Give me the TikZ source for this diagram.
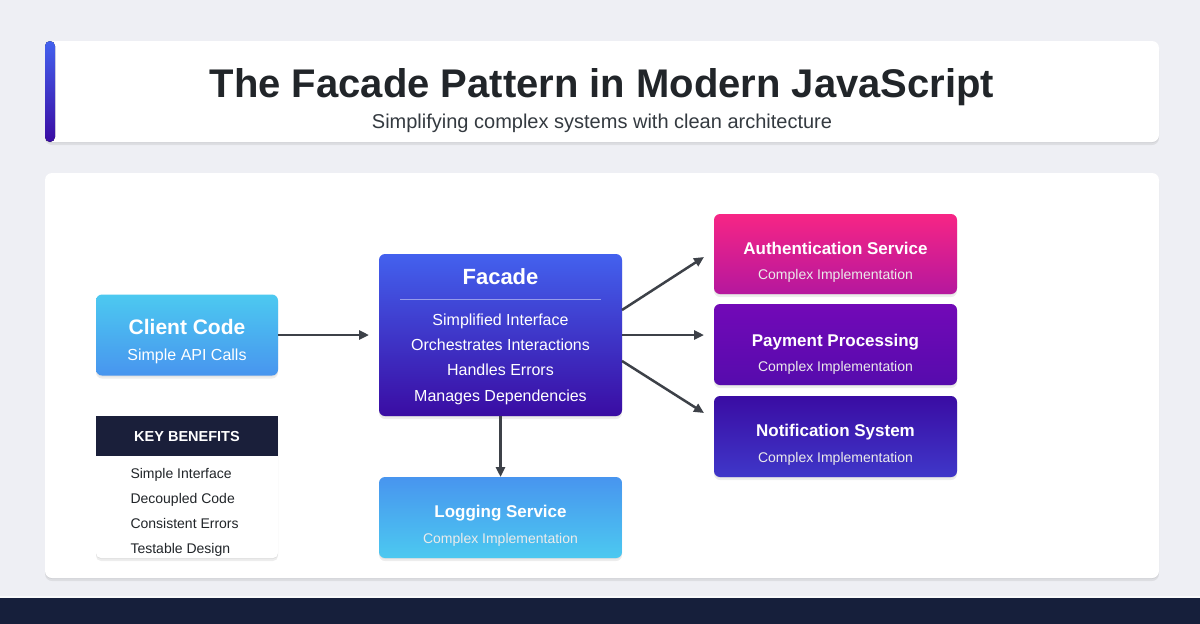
\documentclass[tikz,border=0pt]{standalone}
\usepackage{fontspec}
\setmainfont{Liberation Sans}
\usetikzlibrary{arrows.meta,shadows,calc}
\definecolor{bgc}{HTML}{EEEFF4}
\definecolor{bandc}{HTML}{161F3B}
\definecolor{titlec}{HTML}{212529}
\definecolor{subc}{HTML}{343A40}
\definecolor{arrowc}{HTML}{3D4148}
\definecolor{clientA}{HTML}{4CC9F0}
\definecolor{clientB}{HTML}{4895EF}
\definecolor{facadeA}{HTML}{4361EE}
\definecolor{facadeB}{HTML}{3A0CA3}
\definecolor{authA}{HTML}{F72585}
\definecolor{authB}{HTML}{B5179E}
\definecolor{payA}{HTML}{7209B7}
\definecolor{payB}{HTML}{560BAD}
\definecolor{notA}{HTML}{3A0CA3}
\definecolor{notB}{HTML}{3F37C9}
\definecolor{headc}{HTML}{1A1F3A}
\tikzset{
  softshadow/.style={drop shadow={shadow xshift=0pt, shadow yshift=-3pt, opacity=0.07, fill=black},
                     drop shadow={shadow xshift=0pt, shadow yshift=-1pt, opacity=0.05, fill=black}},
  card/.style={fill=white, rounded corners=7pt, inner sep=0pt, outer sep=0pt, softshadow},
  box/.style={rounded corners=6pt, inner sep=0pt, outer sep=0pt, softshadow, shading angle=0},
  boxtitle/.style={anchor=base, text=white, font=\fontsize{17}{20}\selectfont\bfseries},
  boxsub/.style={anchor=base, text=white!92!black, font=\fontsize{14}{17}\selectfont},
  facadeitem/.style={anchor=base, text=white, font=\fontsize{16}{19}\selectfont},
  benefit/.style={anchor=base west, text=titlec, font=\fontsize{14}{17}\selectfont},
  conn/.style={draw=arrowc, line width=2.5pt, -{Triangle[length=10pt,width=9pt]}},
}
\begin{document}
\begin{tikzpicture}[x=1pt,y=-1pt]
\useasboundingbox (0,0) rectangle (1200,624);
% background
\fill[bgc] (0,0) rectangle (1200,624);
\fill[white, opacity=0.7] (0,596) rectangle (1200,598);
\fill[bandc] (0,598) rectangle (1200,624);

% header card
\node[card, minimum width=1114pt, minimum height=101pt] (header) at (602,91.5) {};
\fill[rounded corners=5pt, top color=facadeA, bottom color=facadeB] (45,41) rectangle (55,142);
\node[anchor=base, text=titlec, font=\fontsize{40}{46}\selectfont\bfseries] (title) at (602,97) {The Facade Pattern in Modern JavaScript};
\node[anchor=base, text=subc, font=\fontsize{20}{24}\selectfont] (subtitle) at (602,128) {Simplifying complex systems with clean architecture};

% main card
\node[card, minimum width=1114pt, minimum height=405pt] (main) at (602,375.5) {};

% client
\node[box, minimum width=182pt, minimum height=81pt, top color=clientA, bottom color=clientB] (client) at (187,335) {};
\node[anchor=base, text=white, font=\fontsize{21}{25}\selectfont\bfseries] (clientT) at (187,334) {Client Code};
\node[anchor=base, text=white, font=\fontsize{16}{19}\selectfont] (clientS) at (187,360) {Simple API Calls};

% facade
\node[box, minimum width=243pt, minimum height=162pt, top color=facadeA, bottom color=facadeB] (facade) at (500.5,335) {};
\node[anchor=base, text=white, font=\fontsize{22}{26}\selectfont\bfseries] (facadeT) at (500.5,284) {Facade};
\draw[white, opacity=0.45, line width=0.8pt] ($(facade.north west)+(21,45)$) -- ($(facade.north east)+(-21,45)$);
\node[facadeitem] (f1) at (500.5,325) {Simplified Interface};
\node[facadeitem] (f2) at (500.5,350) {Orchestrates Interactions};
\node[facadeitem] (f3) at (500.5,375.5) {Handles Errors};
\node[facadeitem] (f4) at (500.5,401) {Manages Dependencies};

% services
\node[box, minimum width=243pt, minimum height=80pt, top color=authA, bottom color=authB] (auth) at (835.5,254) {};
\node[boxtitle] (authT) at (835.5,254) {Authentication Service};
\node[boxsub] (authS) at (835.5,279) {Complex Implementation};

\node[box, minimum width=243pt, minimum height=81pt, top color=payA, bottom color=payB] (pay) at (835.5,344.5) {};
\node[boxtitle] (payT) at (835.5,346) {Payment Processing};
\node[boxsub] (payS) at (835.5,371) {Complex Implementation};

\node[box, minimum width=243pt, minimum height=81pt, top color=notA, bottom color=notB] (notif) at (835.5,436.5) {};
\node[boxtitle] (notifT) at (835.5,436) {Notification System};
\node[boxsub] (notifS) at (835.5,462) {Complex Implementation};

\node[box, minimum width=243pt, minimum height=81pt, top color=clientB, bottom color=clientA] (logging) at (500.5,517.5) {};
\node[boxtitle] (logT) at (500.5,517) {Logging Service};
\node[boxsub] (logS) at (500.5,543) {Complex Implementation};

% key benefits
\node[fill=white, rounded corners=5pt, inner sep=0pt, outer sep=0pt, softshadow, minimum width=182pt, minimum height=142pt] (benefits) at (187,487) {};
\fill[headc] (benefits.north west) rectangle ($(benefits.north east)+(0,40)$);
\node[anchor=base, text=white, font=\fontsize{14.5}{17}\selectfont\bfseries] (benT) at (187,441) {KEY BENEFITS};
\node[benefit] (b1) at (127,478) {Simple Interface};
\node[benefit] (b2) at (127,503) {Decoupled Code};
\node[benefit] (b3) at (127,528) {Consistent Errors};
\node[benefit] (b4) at (127,553) {Testable Design};

% connectors
\coordinate (eAuth) at (704,257);
\coordinate (ePay) at (704,335);
\coordinate (eNot) at (704,413);
\draw[conn, shorten >=10pt] (client.east) -- (facade.west);
\draw[conn] ($(facade.north east)+(0,56)$) -- (eAuth);
\draw[conn] (facade.east) -- (ePay);
\draw[conn] ($(facade.north east)+(0,107)$) -- (eNot);
\draw[conn] (facade.south) -- (logging.north);
\end{tikzpicture}
\end{document}
